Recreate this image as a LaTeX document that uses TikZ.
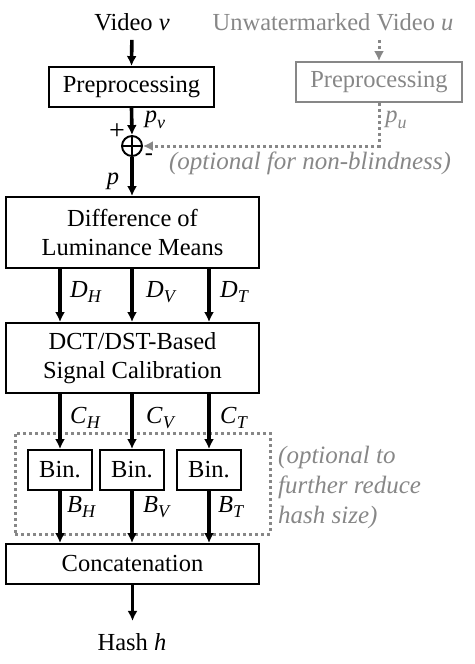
\documentclass[tikz,border=0pt]{standalone}
\usepackage{fontspec}
\setmainfont{Liberation Serif}
\usetikzlibrary{arrows.meta}
\definecolor{gr}{RGB}{135,135,135}
\newcommand\sublab[2]{\textit{#1}\raisebox{-0.5ex}{\fontsize{18}{18}\selectfont\textit{#2}}}
\begin{document}
\begin{tikzpicture}[x=1pt,y=-1pt,font=\fontsize{24.5}{29}\selectfont,
  box/.style={draw,line width=1.9pt,inner sep=0pt,align=center},
  gbox/.style={draw=gr,text=gr,line width=1.9pt,inner sep=0pt,align=center},
  arr/.style={line width=3.6pt,-{Latex[length=10pt,width=10pt]}},
  garr/.style={draw=gr,line width=3pt,dash pattern=on 3pt off 3pt,-{Latex[length=10pt,width=10pt]},gr},
  lab/.style={inner sep=0pt,anchor=west},
  plain/.style={inner sep=0pt}]
\useasboundingbox (0,0) rectangle (474,664);
% nodes
\node[plain] (vid) at (132,22) {Video \textit{v}};
\node[plain,text=gr] (unw) at (333,22) {Unwatermarked Video \textit{u}};
\node[box,minimum width=165pt,minimum height=40pt] (pre) at (131.5,87) {Preprocessing};
\node[gbox,minimum width=166pt,minimum height=40pt] (gpre) at (379,82) {Preprocessing};
\node[draw,circle,line width=1.9pt,minimum size=20pt,inner sep=0pt] (sum) at (132,146) {};
\draw[line width=1.9pt] (sum.north) -- (sum.south) (sum.west) -- (sum.east);
\node[box,minimum width=253pt,minimum height=71pt] (diff) at (132.5,232.5) {Difference of\\Luminance Means};
\node[box,minimum width=253pt,minimum height=70pt] (dct) at (132.5,358) {DCT/DST-Based\\Signal Calibration};
\node[box,minimum width=64pt,minimum height=40pt] (b1) at (60,470) {Bin.};
\node[box,minimum width=64pt,minimum height=40pt] (b2) at (132,470) {Bin.};
\node[box,minimum width=64pt,minimum height=40pt] (b3) at (209,470) {Bin.};
\node[box,minimum width=253pt,minimum height=40pt] (cat) at (132.5,564) {Concatenation};
\node[plain] (hash) at (132,642) {Hash \textit{h}};
\node[draw=gr,line width=3pt,dash pattern=on 3pt off 3pt,inner sep=0pt,minimum width=255pt,minimum height=101pt] (opt) at (142.5,483.5) {};
% labels
\node[plain] (pv) at (155,120) {\sublab{p}{v}};
\node[plain,text=gr] (pu) at (396,120) {\sublab{p}{u}};
\node[plain,font=\fontsize{28}{28}\selectfont] (plus) at (117,132) {+};
\node[plain] (minus) at (149,157) {-};
\node[plain] (plab) at (113,181) {\textit{p}};
\node[plain,text=gr,font=\fontsize{25}{29}\selectfont\itshape] (nb) at (310,163) {(optional for non-blindness)};
\node[lab] (dh) at (70,292) {\sublab{D}{H}};
\node[lab] (dv) at (146,292) {\sublab{D}{V}};
\node[lab] (dt) at (220,292) {\sublab{D}{T}};
\node[lab] (ch) at (70,418) {\sublab{C}{H}};
\node[lab] (cv) at (146,418) {\sublab{C}{V}};
\node[lab] (ct) at (220,418) {\sublab{C}{T}};
\node[lab] (bh) at (67,507) {\sublab{B}{H}};
\node[lab] (bv) at (143,507) {\sublab{B}{V}};
\node[lab] (bt) at (218,507) {\sublab{B}{T}};
\node[lab,text=gr,align=left,font=\fontsize{25}{30}\selectfont\itshape] (optt) at (278,487) {(optional to\\further reduce\\hash size)};
% connectors
\draw[arr,shorten <=9pt] (vid.south) -- (pre.north);
\draw[arr] (pre.south) -- (sum.north);
\draw[arr] (sum.south) -- (diff.north -| sum);
\draw[garr,shorten <=9pt] (unw.south -| gpre.north) -- (gpre.north);
\draw[garr] (gpre.south) |- (sum.east);
\foreach \b in {b1,b2,b3}{
  \draw[arr] (diff.south -| \b) -- (dct.north -| \b);
  \draw[arr] (dct.south -| \b) -- (\b.north);
  \draw[arr] (\b.south) -- (cat.north -| \b);
}
\draw[arr] (cat.south) -- ([yshift=-36pt]cat.south);
\end{tikzpicture}
\end{document}
